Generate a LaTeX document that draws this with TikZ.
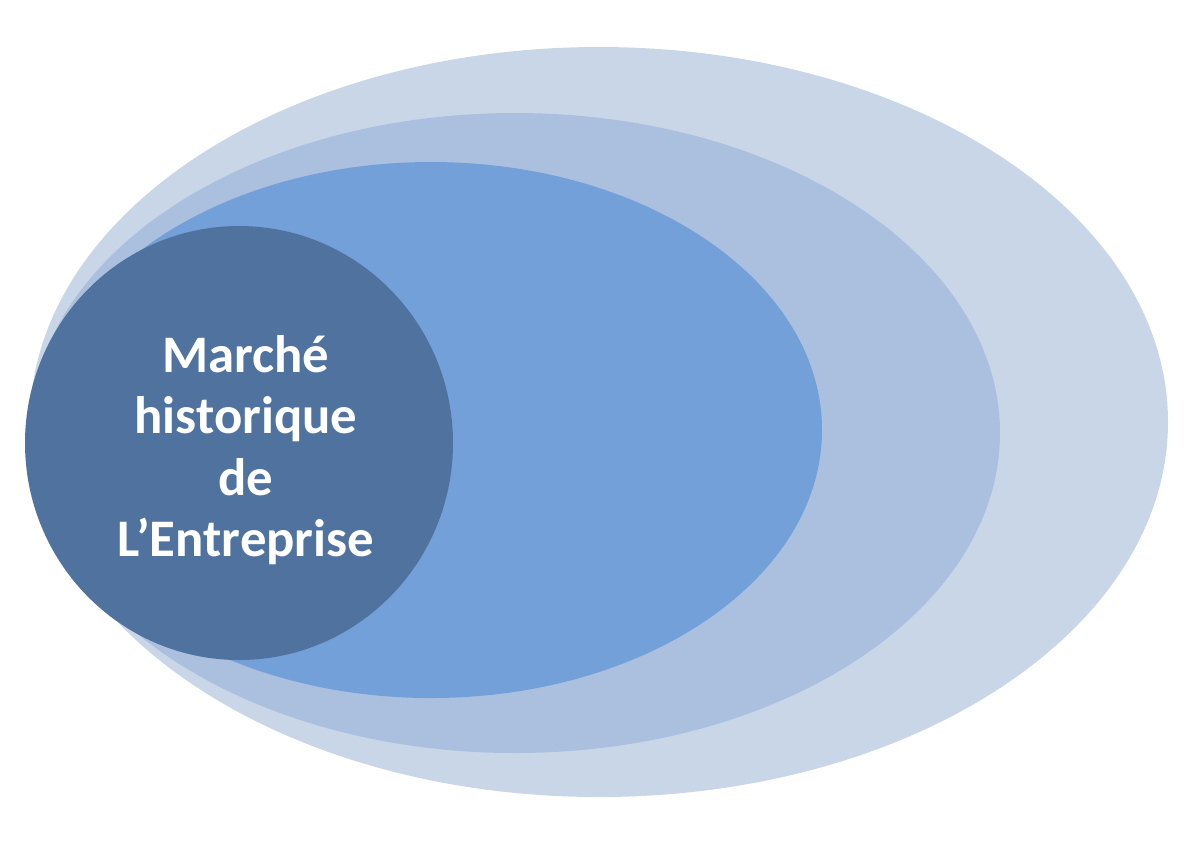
\documentclass[tikz,border=0pt]{standalone}
\usepackage{fontspec}
\setmainfont{Carlito}
\begin{document}
\begin{tikzpicture}[x=0.01cm,y=-0.01cm]
\definecolor{c1}{HTML}{C9D6E8}
\definecolor{c2}{HTML}{ABC0DE}
\definecolor{c3}{HTML}{73A0D8}
\definecolor{c4}{HTML}{4F729F}
\tikzset{blob/.style={draw=none}}
\useasboundingbox (0,0) rectangle (1200,847);
\fill[c1] (599,422) ellipse [x radius=569, y radius=375];
\fill[c2] (515,433) ellipse [x radius=485, y radius=320];
\fill[c3] (431,430) ellipse [x radius=391, y radius=268];
\fill[c4] (239,443) ellipse [x radius=214, y radius=217];
\node[text=white,font=\bfseries\fontsize{15}{17.5}\selectfont,align=center] (t) at (246,450) {Marché\\historique\\de\\L’Entreprise};
\end{tikzpicture}
\end{document}
